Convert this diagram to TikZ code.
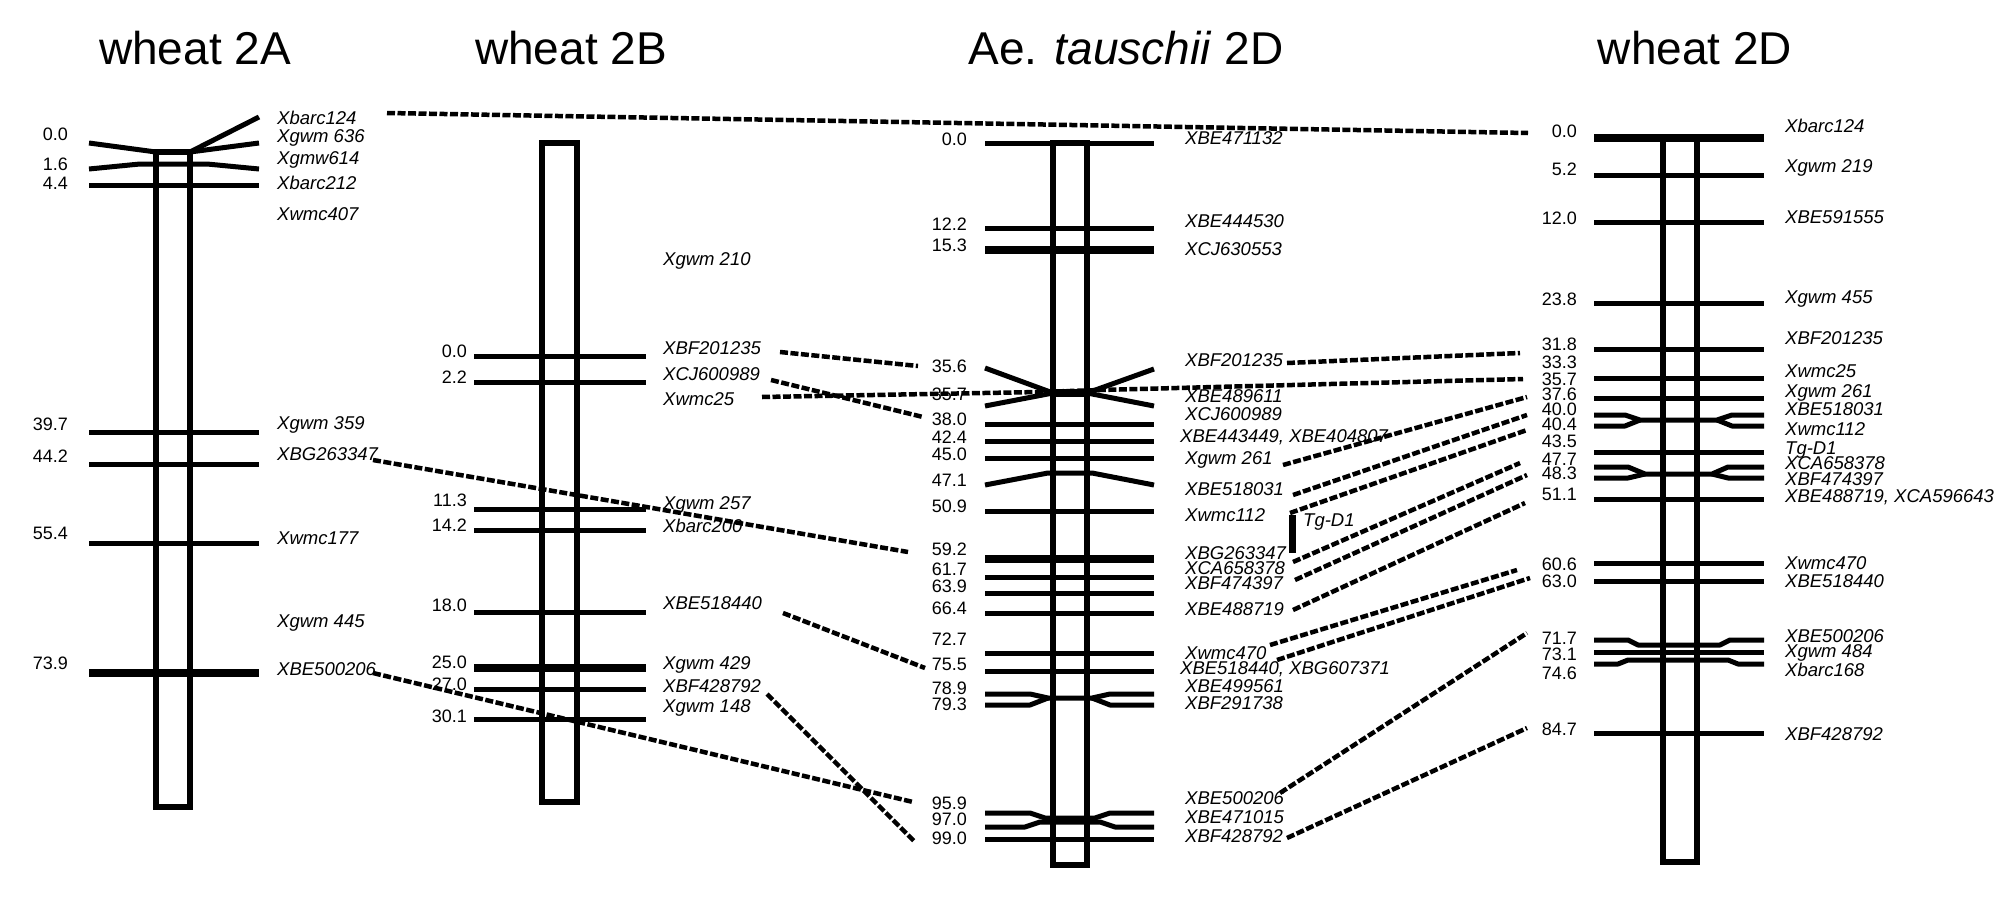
\documentclass[tikz,border=0pt]{standalone}
\usepackage{fontspec}
\setmainfont{Liberation Sans}
\begin{document}
\begin{tikzpicture}[x=1pt,y=-1pt,
  chrom/.style={draw=black, line width=5.5pt, rectangle, inner sep=0pt, minimum width=34pt},
  mk/.style={line width=5pt, line join=round},
  mkt/.style={line width=7.5pt},
  dsh/.style={line width=4.5pt, dash pattern=on 8pt off 2.5pt},
  num/.style={anchor=mid east, inner sep=0pt, font=\fontsize{18}{18}\selectfont},
  lab/.style={anchor=mid west, inner sep=0pt, font=\fontsize{18.5}{18.5}\selectfont\itshape},
  ttl/.style={anchor=base, inner sep=0pt, font=\fontsize{46}{46}\selectfont}]
\fill[white] (0,0) rectangle (2015,899);
\useasboundingbox (0,0) rectangle (2015,899);

% ---------- titles
\node[ttl] (t2A) at (195,65) {wheat 2A};
\node[ttl] (t2B) at (571,65) {wheat 2B};
\node[ttl] (tAe) at (1126,65) {Ae. \textit{tauschii} 2D};
\node[ttl] (t2D) at (1695,65) {wheat 2D};

% ---------- chromosomes
\node[chrom, minimum height=655pt] (c2A) at (173,479.5) {};
\node[chrom, minimum height=659pt, minimum width=35pt] (c2B) at (559.5,472.5) {};
\node[chrom, minimum height=722pt] (cAe) at (1070,504) {};
\node[chrom, minimum height=724pt] (c2D) at (1680,500) {};

% ---------- wheat 2A markers
\draw[mk] (89,143) -- (156,152) -- (190,152) -- (259,117);
\draw[mk] (190,152) -- (259,143);
\draw[mk] (89,169) -- (140,164) -- (207,164) -- (259,169);
\foreach \y in {185,432,464,543} \draw[mk] (89,\y) -- (259,\y);
\draw[mkt] (89,673) -- (259,673);
\foreach \t/\y [count=\i] in {0.0/138,1.6/168,4.4/187,39.7/428,44.2/460,55.4/537,73.9/667}
  \node[num] (nA\i) at (68,\y) {\t};
\foreach \t/\y [count=\i] in {Xbarc124/122,Xgwm 636/140,Xgmw614/162,Xbarc212/187,Xwmc407/218,Xgwm 359/427,XBG263347/458,Xwmc177/542,Xgwm 445/625,XBE500206/673}
  \node[lab] (lA\i) at (277,\y) {\t};

% ---------- wheat 2B markers
\foreach \y in {356,382,509,530,612,689,719} \draw[mk] (474,\y) -- (646,\y);
\draw[mkt] (474,668) -- (646,668);
\foreach \t/\y [count=\i] in {0.0/355,2.2/381,11.3/504,14.2/529,18.0/609,25.0/666,27.0/688,30.1/720}
  \node[num] (nB\i) at (467,\y) {\t};
\foreach \t/\y [count=\i] in {Xgwm 210/263,XBF201235/352,XCJ600989/378,Xwmc25/403,Xgwm 257/507,Xbarc200/530,XBE518440/607,Xgwm 429/667,XBF428792/690,Xgwm 148/710}
  \node[lab] (lB\i) at (663,\y) {\t};

% ---------- Ae. tauschii 2D markers
\foreach \y in {143,228,424,441,458,511,577,593,613,653,671,839} \draw[mk] (985,\y) -- (1154,\y);
\draw[mkt] (985,250) -- (1154,250);
\draw[mkt] (985,559) -- (1154,559);
\draw[mk] (985,368) -- (1053,393) -- (1087,393) -- (1154,369);
\draw[mk] (985,406) -- (1053,393);
\draw[mk] (1087,393) -- (1154,406);
\draw[line width=8pt] (1053,393) -- (1087,393);
\draw[mk] (985,485) -- (1048,473) -- (1092,473) -- (1154,485);
\draw[mk] (985,694) -- (1030,694) -- (1048,698) -- (1092,698) -- (1110,694) -- (1154,694);
\draw[mk] (985,705) -- (1030,705) -- (1048,698);
\draw[mk] (1092,698) -- (1110,705) -- (1154,705);
\draw[mk] (985,813) -- (1030,813) -- (1045,818) -- (1095,818) -- (1110,813) -- (1154,813);
\draw[mk] (985,827) -- (1025,827) -- (1040,822) -- (1100,822) -- (1115,827) -- (1154,827);
\foreach \t/\y [count=\i] in {0.0/143,12.2/228,15.3/249,35.6/370,35.7/398,38.0/423,42.4/441,45.0/458,47.1/484,50.9/510,59.2/553,61.7/573,63.9/590,66.4/612,72.7/643,75.5/668,78.9/692,79.3/708,95.9/807,97.0/823,99.0/842}
  \node[num] (nC\i) at (967,\y) {\t};
\foreach \t/\y [count=\i] in {XBE471132/142,XBE444530/225,XCJ630553/253,XBF201235/364,XBE489611/400,XCJ600989/418,Xgwm 261/462,XBE518031/493,Xwmc112/519,XBG263347/557,XCA658378/572,XBF474397/587,XBE488719/613,Xwmc470/657,XBE499561/690,XBF291738/707,XBE500206/802,XBE471015/821,XBF428792/840}
  \node[lab] (lC\i) at (1185,\y) {\t};
\node[lab] (lCa) at (1180,440) {XBE443449, XBE404807};
\node[lab] (lCb) at (1180,672) {XBE518440, XBG607371};
\draw[line width=7pt] (1292,515) -- (1292,553);
\node[lab] (tg) at (1303,524) {Tg-D1};

% ---------- wheat 2D markers
\draw[line width=8pt] (1594,138) -- (1764,138);
\foreach \y in {175,222,303,349,378,398,452,499,563,581,652,733} \draw[mk] (1594,\y) -- (1764,\y);
\draw[mk] (1594,415) -- (1625,415) -- (1640,420) -- (1717,420) -- (1732,415) -- (1764,415);
\draw[mk] (1594,426) -- (1625,426) -- (1640,420);
\draw[mk] (1717,420) -- (1732,426) -- (1764,426);
\draw[mk] (1594,467) -- (1628,467) -- (1645,474) -- (1712,474) -- (1728,467) -- (1764,467);
\draw[mk] (1594,478) -- (1628,478) -- (1645,474);
\draw[mk] (1712,474) -- (1728,478) -- (1764,478);
\draw[mk] (1594,640) -- (1628,640) -- (1638,645) -- (1720,645) -- (1730,640) -- (1764,640);
\draw[mk] (1594,664) -- (1618,664) -- (1628,660) -- (1728,660) -- (1738,664) -- (1764,664);
\foreach \t/\y [count=\i] in {0.0/135,5.2/173,12.0/222,23.8/303,31.8/348,33.3/366,35.7/383,37.6/398,40.0/413,40.4/428,43.5/445,47.7/463,48.3/477,51.1/498,60.6/568,63.0/585,71.7/642,73.1/658,74.6/677,84.7/733}
  \node[num] (nD\i) at (1577,\y) {\t};
\foreach \t/\y [count=\i] in {Xbarc124/130,Xgwm 219/170,XBE591555/221,Xgwm 455/301,XBF201235/342,Xwmc25/375,Xgwm 261/395,XBE518031/413,Xwmc112/433,Tg-D1/452,XCA658378/467,XBF474397/483,Xwmc470/567,XBE518440/585,XBE500206/640,Xgwm 484/655,Xbarc168/674,XBF428792/738}
  \node[lab] (lD\i) at (1785,\y) {\t};
\node[lab] (lDa) at (1785,500) {XBE488719, XCA596643};

% ---------- connector end points
\coordinate (p1a) at (387,113);  \coordinate (p1b) at (1528,133);
\coordinate (p2a) at (780,352);  \coordinate (p2b) at (918,366);
\coordinate (p3a) at (771,380);  \coordinate (p3b) at (923,417);
\coordinate (p4a) at (762,397);  \coordinate (p4m) at (1040,392); \coordinate (p4n) at (1100,390); \coordinate (p4b) at (1523,379);
\coordinate (p5a) at (1287,363); \coordinate (p5b) at (1520,353);
\coordinate (p6a) at (373,460);  \coordinate (p6b) at (908,552);
\coordinate (p7a) at (373,673);  \coordinate (p7b) at (913,802);
\coordinate (p8a) at (767,694);  \coordinate (p8b) at (915,842);
\coordinate (p9a) at (783,613);  \coordinate (p9b) at (925,668);
\coordinate (q1a) at (1283,465); \coordinate (q1b) at (1527,397);
\coordinate (q2a) at (1293,495); \coordinate (q2b) at (1527,415);
\coordinate (q3a) at (1290,513); \coordinate (q3b) at (1527,430);
\coordinate (q4a) at (1293,562); \coordinate (q4b) at (1520,463);
\coordinate (q5a) at (1295,580); \coordinate (q5b) at (1527,475);
\coordinate (q6a) at (1293,610); \coordinate (q6b) at (1525,503);
\coordinate (q7a) at (1270,645); \coordinate (q7b) at (1517,570);
\coordinate (q8a) at (1277,660); \coordinate (q8b) at (1530,578);
\coordinate (q9a) at (1280,793); \coordinate (q9b) at (1527,633);
\coordinate (q10a) at (1287,838); \coordinate (q10b) at (1527,728);

% ---------- dashed connectors
\draw[dsh] (p1a) -- (p1b);
\draw[dsh] (p2a) -- (p2b);
\draw[dsh] (p3a) -- (p3b);
\draw[dsh] (p4a) -- (p4m) -- (p4n) -- (p4b);
\draw[dsh] (p5a) -- (p5b);
\draw[dsh] (p6a) -- (p6b);
\draw[dsh] (p7a) -- (p7b);
\draw[dsh] (p8a) -- (p8b);
\draw[dsh] (p9a) -- (p9b);
\foreach \k in {1,...,10} \draw[dsh] (q\k a) -- (q\k b);
\end{tikzpicture}
\end{document}
